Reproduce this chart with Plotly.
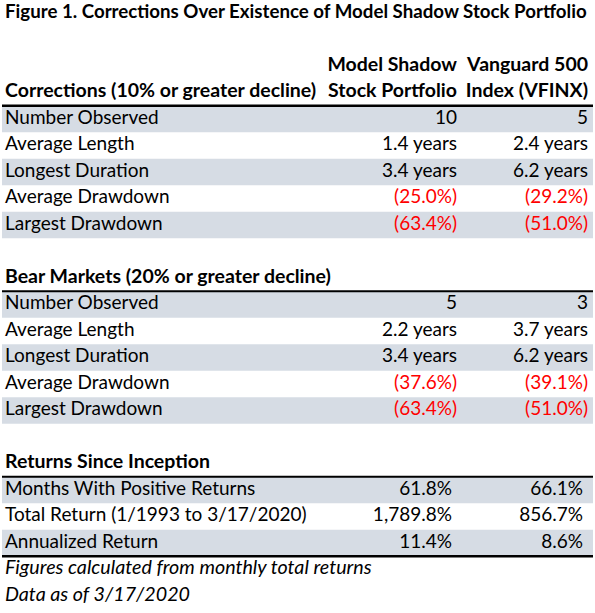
"""
Figure 1: corrections over existence of the Model Shadow Stock Portfolio, drawn as a table.
"""
import plotly.graph_objects as go

title = "Figure 1. Corrections Over Existence of Model Shadow Stock Portfolio"
col_head_top = ["Model Shadow", "Vanguard 500"]
col_head_bot = ["Stock Portfolio", "Index (VFINX)"]

corr_title = "Corrections (10% or greater decline)"
corr_labels = ["Number Observed", "Average Length", "Longest Duration", "Average Drawdown", "Largest Drawdown"]
corr_shadow = ["10", "1.4 years", "3.4 years", "(25.0%)", "(63.4%)"]
corr_vfinx = ["5", "2.4 years", "6.2 years", "(29.2%)", "(51.0%)"]

bear_title = "Bear Markets (20% or greater decline)"
bear_labels = ["Number Observed", "Average Length", "Longest Duration", "Average Drawdown", "Largest Drawdown"]
bear_shadow = ["5", "2.2 years", "3.4 years", "(37.6%)", "(63.4%)"]
bear_vfinx = ["3", "3.7 years", "6.2 years", "(39.1%)", "(51.0%)"]

ret_title = "Returns Since Inception"
ret_labels = ["Months With Positive Returns", "Total Return (1/1993 to 3/17/2020)", "Annualized Return"]
ret_shadow = ["61.8%", "1,789.8%", "11.4%"]
ret_vfinx = ["66.1%", "856.7%", "8.6%"]

notes = ["Figures calculated from monthly total returns", "Data as of 3/17/2020"]

FONT = "Lato"
SIZE = 19
SIZE_TITLE = 18.7
SIZE_BOLD = 19.5
SIZE_NOTE = 19.7
BAND = "#D6DCE4"
RED = "#FF0000"
X_LEFT, X_COL1, X_COL2 = 5, 457, 588
# spreadsheet-style grid: row i is centred at 13 + 26.5 * i pixels
ROW_PX, ROW0_PX = 26.5, 13
W, H = 595, 613

fig = go.Figure()
shapes = []


def add_text(xs, ys, texts, pos, size=SIZE, bold=False, italic=False, colors="black"):
    fig.add_trace(go.Scatter(
        x=xs, y=ys, text=texts, mode="text", textposition=pos, cliponaxis=False,
        textfont=dict(family=FONT, size=size, color=colors,
                      weight="bold" if bold else "normal",
                      style="italic" if italic else "normal"),
        hoverinfo="skip", showlegend=False,
    ))


def hline(row_edge, width):
    shapes.append(dict(type="line", xref="x", yref="y", x0=2, x1=593,
                       y0=row_edge, y1=row_edge, line=dict(color="black", width=width)))


def section(start, head, labels, shadow, vfinx, pad=0):
    rows = [start + i for i in range(len(labels))]
    for i, r in enumerate(rows):
        if i % 2 == 0:
            shapes.append(dict(type="rect", xref="x", yref="y", x0=2, x1=593,
                               y0=r - 0.5, y1=r + 0.5, fillcolor=BAND, line_width=0, layer="below"))
    add_text([X_LEFT] * len(rows), rows, labels, "middle right")
    add_text([X_COL1 - pad] * len(rows), rows, shadow, "middle left",
             colors=[RED if v.startswith("(") else "black" for v in shadow])
    add_text([X_COL2 - pad] * len(rows), rows, vfinx, "middle left",
             colors=[RED if v.startswith("(") else "black" for v in vfinx])
    if head is not None:
        add_text([X_LEFT], [start - 1], [head], "middle right", size=SIZE_BOLD, bold=True)


# title and column headers
add_text([X_LEFT], [0], [title], "middle right", size=SIZE_TITLE, bold=True)
add_text([X_COL1, X_COL2], [2, 2], col_head_top, "middle left", size=SIZE_BOLD, bold=True)
add_text([X_COL1, X_COL2], [3, 3], col_head_bot, "middle left", size=SIZE_BOLD, bold=True)

section(4, corr_title, corr_labels, corr_shadow, corr_vfinx)
hline(3.5, 2.5)
section(11, bear_title, bear_labels, bear_shadow, bear_vfinx)
hline(10.5, 2)
section(18, ret_title, ret_labels, ret_shadow, ret_vfinx, pad=5)
hline(17.5, 2)
hline(20.5, 2.5)

add_text([X_LEFT, X_LEFT], [21, 22], notes, "middle right", size=SIZE_NOTE, italic=True)

# data x = pixel, data y = row index
top = -ROW0_PX / ROW_PX
bottom = (H - ROW0_PX) / ROW_PX
fig.update_layout(
    width=W, height=H,
    margin=dict(l=0, r=0, t=0, b=0),
    paper_bgcolor="white", plot_bgcolor="white",
    xaxis=dict(range=[0, W], visible=False, fixedrange=True),
    yaxis=dict(range=[bottom, top], visible=False, fixedrange=True),
    shapes=shapes,
)

# drop the default 8px body margin so the figure sits at the window's corner
fig.write_html("out.html", config={"displayModeBar": False},
               post_script="document.body.style.margin='0';document.body.style.overflow='hidden';")
